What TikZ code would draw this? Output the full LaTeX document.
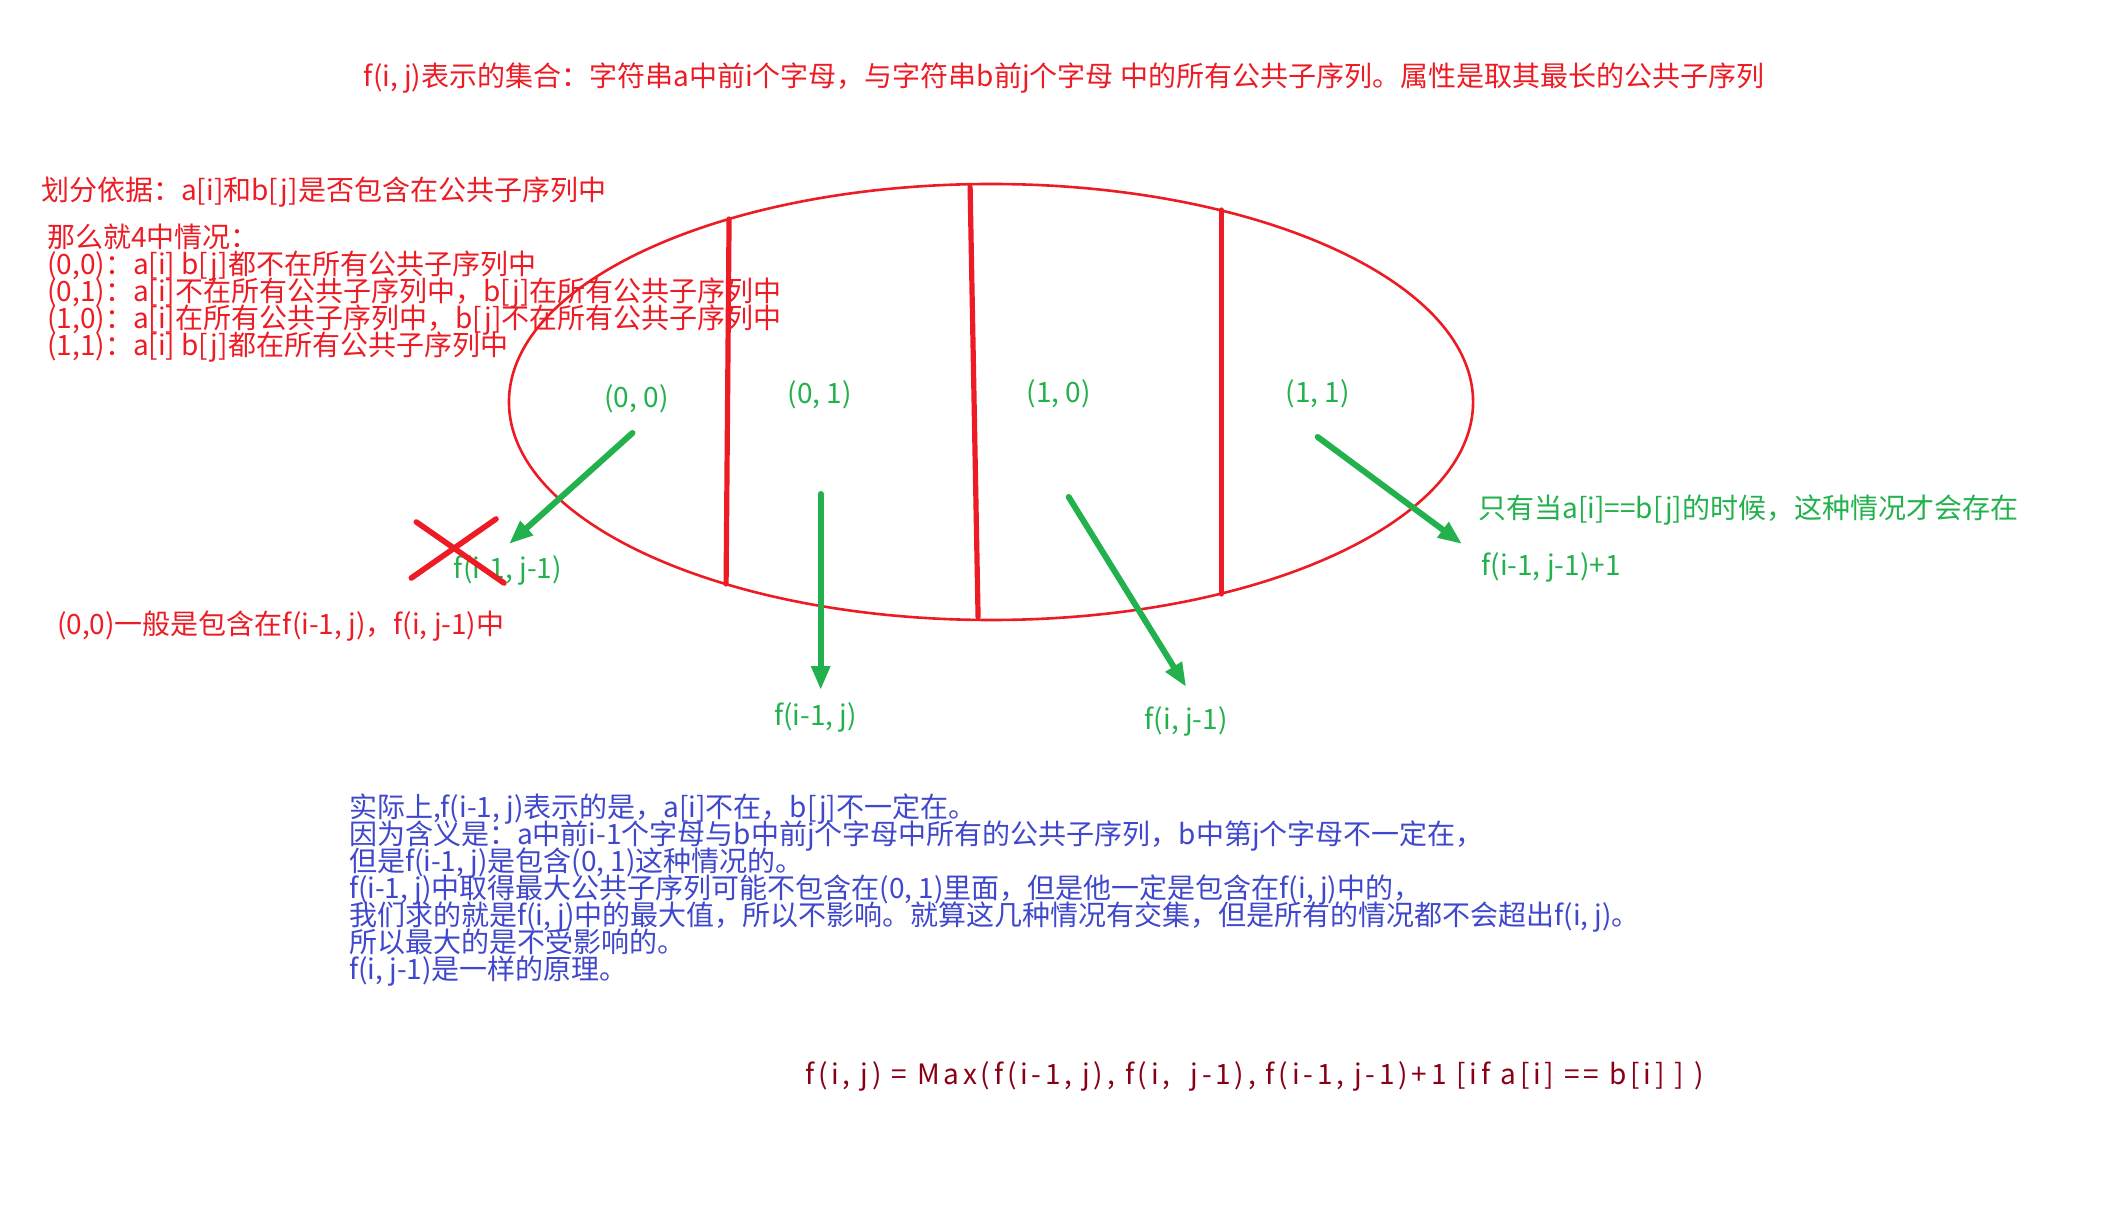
\documentclass[tikz,border=0pt]{standalone}
\usepackage{fontspec}
\setmainfont{Noto Sans CJK SC}
\usetikzlibrary{arrows.meta}
\usetikzlibrary{positioning}

\definecolor{pred}{RGB}{237,28,36}
\definecolor{pgreen}{RGB}{34,177,76}
\definecolor{pblue}{RGB}{63,72,204}
\definecolor{pdark}{RGB}{136,0,21}

\newcommand\notefont{\fontsize{14pt}{13.5pt}\selectfont\lineskiplimit=-100pt\relax}

\tikzset{
  txt/.style={inner sep=0pt, anchor=west, font=\notefont},
  red txt/.style={txt, text=pred},
  green txt/.style={txt, text=pgreen},
  divider/.style={pred, line width=2.6pt, line cap=round},
  pick/.style={pgreen, line width=3pt, line cap=round, -{Triangle[length=12pt,width=9pt]}},
}

\begin{document}
\begin{tikzpicture}[x=0.5pt,y=-0.5pt]
		\useasboundingbox (0,0) rectangle (2111,1208);
		\begin{scope}[xscale=0.996]
		
		\node[red txt](title) at (365,78){f(i, j)表示的集合：字符串a中前i个字母，与字符串b前j个字母 中的所有公共子序列。属性是取其最长的公共子序列};
		
		\node[red txt](basis) at (41,192){划分依据：a[i]和b[j]是否包含在公共子序列中};
		\node[red txt, anchor=north west, align=left](cases) at (47,224){那么就4中情况：\\
			(0,0)：a[i] b[j]都不在所有公共子序列中\\
			(0,1)：a[i]不在所有公共子序列中，b[j]在所有公共子序列中\\
			(1,0)：a[i]在所有公共子序列中，b[j]不在所有公共子序列中\\
			(1,1)：a[i] b[j]都在所有公共子序列中};
		
		% the set, cut into four cases
		\draw[pred, line width=1.3pt] (995,402) ellipse [x radius=484, y radius=218];
		\draw[divider] (732,219) -- (729,584);
		\draw[divider] (974,187) -- (982,617);
		\draw[divider] (1226,210) -- (1226,594);
		
		\node[green txt, anchor=center](c00) at (639,399){(0, 0)};
		\node[green txt, anchor=center](c01) at (823,395){(0, 1)};
		\node[green txt, anchor=center](c10) at (1063,394){(1, 0)};
		\node[green txt, anchor=center](c11) at (1323,394){(1, 1)};
		
		\node[green txt, anchor=center](f00) at (510,570){f(i-1, j-1)};
		\node[green txt, anchor=center](f01) at (819,717){f(i-1, j)};
		\node[green txt, anchor=center](f10) at (1191,721){f(i, j-1)};
		\node[green txt](f11) at (1487,567){f(i-1, j-1)+1};
		\node[green txt](only) at (1484,510){只有当a[i]==b[j]的时候，这种情况才会存在};
		
		\coordinate (s00) at (635,433);
		\coordinate (e00) at (511,544);
		\coordinate (s01) at (824,494);
		\coordinate (e01) at (824,690);
		\coordinate (s10) at (1073,497);
		\coordinate (e10) at (1191,687);
		\coordinate (s11) at (1323,437);
		\coordinate (e11) at (1468,544);
		
		\draw[pick] (s00) -- (e00);
		\draw[pick] (s01) -- (e01);
		\draw[pick] (s10) -- (e10);
		\draw[pick] (s11) -- (e11);
		
		% (0,0) is crossed out
		\draw[pred, line width=2.8pt, line cap=round] (418,522) -- (506,583);
		\draw[pred, line width=2.8pt, line cap=round] (413,578) -- (498,519);
		
		\node[red txt](note) at (57,626){(0,0)一般是包含在f(i-1, j)，f(i, j-1)中};
		
		\node[txt, text=pblue, anchor=north west, align=left](why) at (350,793){实际上,f(i-1, j)表示的是，a[i]不在，b[j]不一定在。\\
			因为含义是：a中前i-1个字母与b中前j个字母中所有的公共子序列，b中第j个字母不一定在，\\
			但是f(i-1, j)是包含(0, 1)这种情况的。\\
			f(i-1, j)中取得最大公共子序列可能不包含在(0, 1)里面，但是他一定是包含在f(i, j)中的，\\
			我们求的就是f(i, j)中的最大值，所以不影响。就算这几种情况有交集，但是所有的情况都不会超出f(i, j)。\\
			所以最大的是不受影响的。\\
			f(i, j-1)是一样的原理。};
		
		\node[txt, text=pdark, font=\notefont\addfontfeature{LetterSpace=13.5}](rule) at (808,1076){f(i, j) = Max(f(i-1, j), f(i,\ \ j-1), f(i-1, j-1)+1 [if a[i] == b[i] ] )};
		\end{scope}
	\end{tikzpicture}
\end{document}
